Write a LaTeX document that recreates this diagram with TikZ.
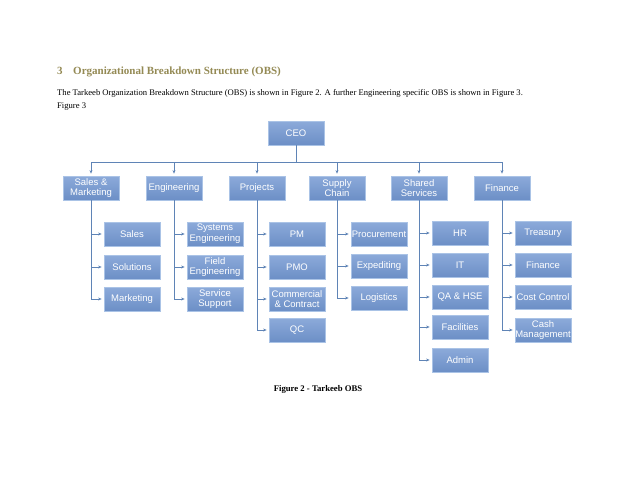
\documentclass[tikz,border=0pt]{standalone}
\usepackage{fontspec}
\setmainfont{Liberation Serif}
\setsansfont{Liberation Sans}
\usepackage{tikz}
\usetikzlibrary{arrows.meta,calc}

\definecolor{olivehead}{RGB}{148,138,84}
\definecolor{boxtop}{RGB}{140,170,218}
\definecolor{boxbot}{RGB}{108,143,198}
\definecolor{boxedge}{RGB}{170,195,230}
\definecolor{linkblue}{RGB}{95,132,182}

\begin{document}
\begin{tikzpicture}[
    x=1pt, y=-1pt,
    unit/.style={draw=boxedge, line width=0.8pt, top color=boxtop, bottom color=boxbot,
        minimum width=56pt, minimum height=24pt, inner sep=0pt, align=center,
        text=white, font=\sffamily\fontsize{9.5}{10.7}\selectfont},
    link/.style={draw=linkblue, line width=0.9pt},
    arr/.style={link, -{Stealth[length=3.5pt,width=3pt]}, shorten >=2pt}
]
\useasboundingbox[fill=white] (0,0) rectangle (638,493);

% heading and text
\node[anchor=base west, text=olivehead, font=\bfseries\fontsize{11}{13}\selectfont, inner sep=0pt] (num) at (57,74) {3};
\node[anchor=base west, text=olivehead, font=\bfseries\fontsize{11}{13}\selectfont, inner sep=0pt] (title) at (73,74) {Organizational Breakdown Structure (OBS)};
\node[anchor=base west, font=\fontsize{8.6}{13}\selectfont, inner sep=0pt] (intro) at (57,95) {The Tarkeeb Organization Breakdown Structure (OBS) is shown in Figure 2. A further Engineering specific OBS is shown in Figure 3.};
\node[anchor=base west, font=\fontsize{8.6}{13}\selectfont, inner sep=0pt] (intro2) at (57,108) {Figure 3};

% top
\node[unit] (ceo) at (296,133) {CEO};
\coordinate (bus) at (296,162);

% first level
\node[unit] (sm) at (91,188) {Sales \&\\Marketing};
\node[unit] (eng) at (174,188) {Engineering};
\node[unit] (proj) at (257,188) {Projects};
\node[unit] (sc) at (337,188) {Supply\\Chain};
\node[unit] (ss) at (419,188) {Shared\\Services};
\node[unit] (fin) at (502,188) {Finance};

% second level
\node[unit] (sales) at (132,234) {Sales};
\node[unit] (sol) at (132,267) {Solutions};
\node[unit] (mkt) at (132,299) {Marketing};

\node[unit] (syseng) at (215,234) {Systems\\Engineering};
\node[unit] (fldeng) at (215,267) {Field\\Engineering};
\node[unit] (svc) at (215,299) {Service\\Support};

\node[unit] (pm) at (297,234) {PM};
\node[unit] (pmo) at (297,267) {PMO};
\node[unit] (cc) at (297,299) {Commercial\\\& Contract};
\node[unit] (qc) at (297,330) {QC};

\node[unit] (proc) at (379,234) {Procurement};
\node[unit] (exp) at (379,266) {Expediting};
\node[unit] (log) at (379,298) {Logistics};

\node[unit] (hr) at (460,233) {HR};
\node[unit] (it) at (460,265) {IT};
\node[unit] (qa) at (460,297) {QA \& HSE};
\node[unit] (fac) at (460,327) {Facilities};
\node[unit] (adm) at (460,360) {Admin};

\node[unit] (treas) at (543,233) {Treasury};
\node[unit] (finc) at (543,265) {Finance};
\node[unit] (cost) at (543,297) {Cost Control};
\node[unit] (cash) at (543,330) {Cash\\Management};

% connectors
\draw[link] (ceo.south) -- (bus);
\draw[link] (bus -| sm) -- (bus -| fin);
\foreach \d in {sm,eng,proj,sc,ss,fin}
    \draw[arr] (bus -| \d) -- (\d.north);

\foreach \p/\c in {sm/sales,sm/sol,sm/mkt,
                   eng/syseng,eng/fldeng,eng/svc,
                   proj/pm,proj/pmo,proj/cc,proj/qc,
                   sc/proc,sc/exp,sc/log,
                   ss/hr,ss/it,ss/qa,ss/fac,ss/adm,
                   fin/treas,fin/finc,fin/cost,fin/cash}
    \draw[arr] (\p.south) |- (\c.west);

% caption
\node[font=\bfseries\fontsize{8.7}{11}\selectfont, anchor=base] (cap) at (318,391) {Figure 2 - Tarkeeb OBS};
\end{tikzpicture}
\end{document}
